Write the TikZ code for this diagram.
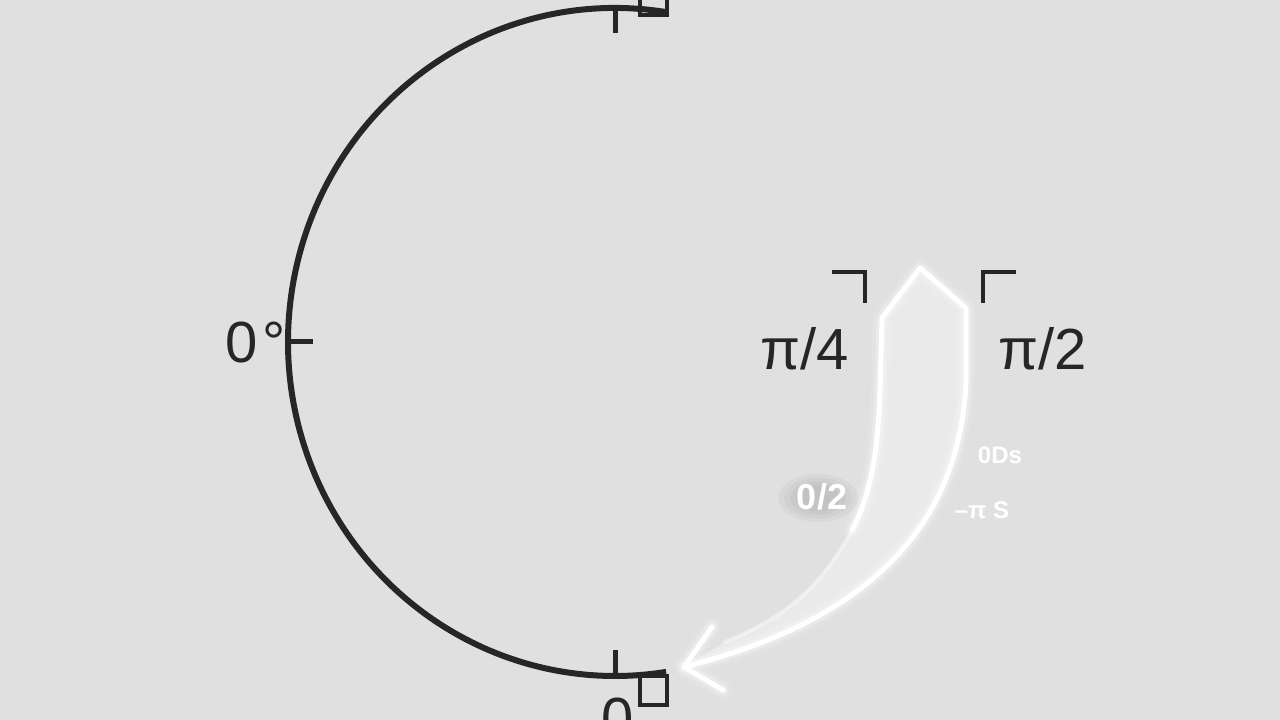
\documentclass[tikz,border=0pt]{standalone}
\usepackage{fontspec}
\setmainfont{Liberation Sans}
\definecolor{ink}{HTML}{262626}
\definecolor{paper}{HTML}{E0E0E0}

\begin{document}
\begin{tikzpicture}[x=1pt,y=1pt]
        \tikzset{dial/.style={draw=ink, line width=6pt},
            dialtick/.style={draw=ink, line width=5pt},
            bracket/.style={draw=ink, line width=4.5pt},
            angletext/.style={text=ink, inner sep=0, font=\fontsize{58}{60}\selectfont},
            glow/.style={draw=white, line cap=round, line join=round},
            ghost/.style={text=white, inner sep=0, font=\bfseries\fontsize{24}{26}\selectfont}}
        \fill[paper] (0,0) rectangle (1280,720);
        \useasboundingbox (0,0) rectangle (1280,720);
        % half dial
        \coordinate (centre) at (615,378);
        \draw[dial] (centre) ++(81:327 and 334) coordinate (top)
            arc[start angle=81, end angle=279, x radius=327pt, y radius=334pt] coordinate (bottom);
        \draw[dialtick] (615,712) -- (615,687);
        \draw[dialtick] (615,70) -- (615,46);
        \draw[dialtick] (288,378) -- (313,378);
        \draw[bracket] (640,705) rectangle (667,735);
        \draw[bracket] (640,15) rectangle (667,44);
        \node[angletext, anchor=north west] (zerodeg) at (225,398) {0\hspace{5pt}°};
        \node[angletext, anchor=north] (zero) at (618,22) {0};
        % right marks
        \draw[bracket] (832,448) -- (865,448) -- (865,417);
        \draw[bracket] (1016,448) -- (983,448) -- (983,417);
        \node[angletext, anchor=base] (quarter) at (805,350) {π/4};
        \node[angletext, anchor=base] (half) at (1043,350) {π/2};
        % glowing arrow
        \coordinate (apex) at (920,452);
        \coordinate (lshoulder) at (882,402);
        \coordinate (rshoulder) at (966,412);
        \coordinate (lbend) at (852,190);
        \coordinate (tip) at (684,53);
        \fill[white, opacity=0.35] (lshoulder) -- (apex) -- (rshoulder) -- (966,340)
            .. controls (960,180) and (850,95) .. (tip) -- (725,78)
            .. controls (780,100) and (820,130) .. (lbend)
            .. controls (868,220) and (878,260) .. (880,330) -- cycle;
        \foreach \w/\o in {18/0.1, 11/0.25, 5/1} {
            \draw[glow, line width=\w pt, opacity=\o] (lbend) .. controls (868,220) and (878,260) .. (880,330)
                -- (lshoulder) -- (apex) -- (rshoulder) -- (966,340)
                .. controls (960,180) and (850,95) .. (tip);
            \draw[glow, line width=\w pt, opacity=\o] (712,93) -- (tip) -- (723,30);
        }
        \draw[glow, line width=4pt, opacity=0.4] (lbend) .. controls (820,130) and (780,100) .. (725,78);
        % ghost text
        \foreach \r in {40,34,28,22}
            \fill[black, opacity=0.03] (818,222) ellipse[x radius=\r pt, y radius=0.6*\r pt];
        \node[ghost, font=\bfseries\fontsize{36}{38}\selectfont] (ghosta) at (822,223) {0/2};
        \node[ghost] (ghostb) at (1000,265) {0Ds};
        \node[ghost] (ghostc) at (982,210) {–π S};
    \end{tikzpicture}
\end{document}
